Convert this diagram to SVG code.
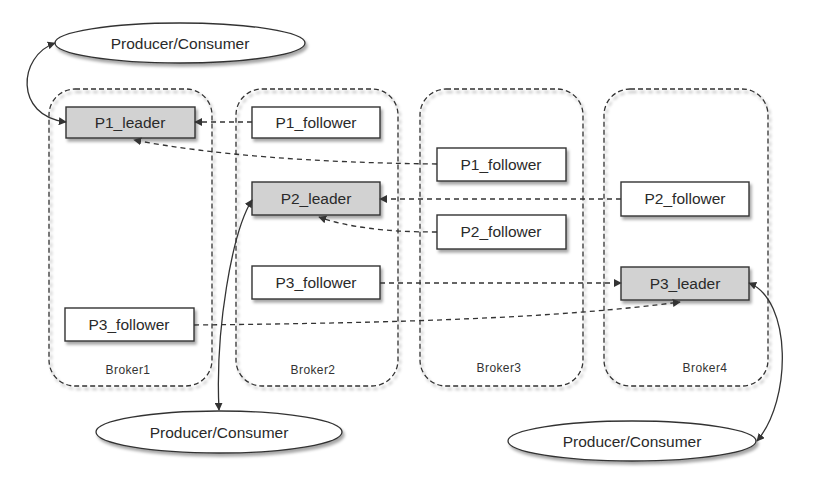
<svg xmlns="http://www.w3.org/2000/svg" width="835" height="478" viewBox="0 0 835 478">
<style>
.broker{fill:none;stroke:#333;stroke-width:1.3;stroke-dasharray:5,3}
.box{fill:#fff;stroke:#333;stroke-width:1.4}
.leader{fill:#d2d2d2;stroke:#333;stroke-width:1.4}
.ell{fill:#fff;stroke:#333;stroke-width:1.3}
.t{font-family:"Liberation Sans",Arial,sans-serif;font-size:15.5px;fill:#2a2a2a;text-anchor:middle}
.bl{font-family:"Liberation Sans",Arial,sans-serif;font-size:12px;fill:#333;text-anchor:middle;letter-spacing:0.4px}
.dash{fill:none;stroke:#333;stroke-width:1.3;stroke-dasharray:5,4;marker-end:url(#ah)}
.solid{fill:none;stroke:#333;stroke-width:1.3;marker-start:url(#ah);marker-end:url(#ah)}
</style>
<defs>
<marker id="ah" viewBox="0 0 10 10" refX="9" refY="5" markerWidth="8" markerHeight="8" markerUnits="userSpaceOnUse" orient="auto-start-reverse">
<path d="M0,0 L10,5 L0,10 z" fill="#333"/>
</marker>
<filter id="sh" x="-10%" y="-10%" width="130%" height="140%">
<feDropShadow dx="2" dy="3" stdDeviation="1.8" flood-color="#000" flood-opacity="0.35"/>
</filter>
</defs>
<rect width="835" height="478" fill="#fff"/>

<g id="broker1"><rect class="broker" x="49" y="89" width="163" height="297" rx="26" filter="url(#sh)"/><text class="bl" x="128" y="374">Broker1</text></g>
<g id="broker2"><rect class="broker" x="236" y="89" width="162" height="297" rx="26" filter="url(#sh)"/><text class="bl" x="313" y="374">Broker2</text></g>
<g id="broker3"><rect class="broker" x="420" y="89" width="163" height="297" rx="26" filter="url(#sh)"/><text class="bl" x="499" y="372">Broker3</text></g>
<g id="broker4"><rect class="broker" x="604" y="89" width="164" height="297" rx="26" filter="url(#sh)"/><text class="bl" x="705" y="372">Broker4</text></g>

<g id="p1_leader"><rect class="leader" x="66" y="107" width="129" height="31" filter="url(#sh)"/><text class="t" x="130" y="128">P1_leader</text></g>
<g id="p1_follower_b2"><rect class="box" x="252" y="107" width="128" height="31" filter="url(#sh)"/><text class="t" x="316" y="128">P1_follower</text></g>
<g id="p2_leader"><rect class="leader" x="252" y="182" width="128" height="33" filter="url(#sh)"/><text class="t" x="316" y="204">P2_leader</text></g>
<g id="p3_follower_b2"><rect class="box" x="252" y="266" width="128" height="33" filter="url(#sh)"/><text class="t" x="316" y="288">P3_follower</text></g>
<g id="p3_follower_b1"><rect class="box" x="65" y="308" width="129" height="33" filter="url(#sh)"/><text class="t" x="129" y="330">P3_follower</text></g>
<g id="p1_follower_b3"><rect class="box" x="437" y="148" width="129" height="33" filter="url(#sh)"/><text class="t" x="501" y="170">P1_follower</text></g>
<g id="p2_follower_b3"><rect class="box" x="437" y="215" width="129" height="34" filter="url(#sh)"/><text class="t" x="501" y="237">P2_follower</text></g>
<g id="p2_follower_b4"><rect class="box" x="621" y="182" width="128" height="34" filter="url(#sh)"/><text class="t" x="685" y="204">P2_follower</text></g>
<g id="p3_leader"><rect class="leader" x="621" y="267" width="128" height="33" filter="url(#sh)"/><text class="t" x="685" y="289">P3_leader</text></g>

<g id="pc_top"><ellipse class="ell" cx="180" cy="43" rx="125" ry="20" filter="url(#sh)"/><text class="t" x="180" y="49">Producer/Consumer</text></g>
<g id="pc_bottom_left"><ellipse class="ell" cx="219" cy="432" rx="123" ry="21" filter="url(#sh)"/><text class="t" x="219" y="438">Producer/Consumer</text></g>
<g id="pc_bottom_right"><ellipse class="ell" cx="632" cy="441" rx="124" ry="20" filter="url(#sh)"/><text class="t" x="632" y="447">Producer/Consumer</text></g>

<g id="connectors">
<path class="solid" d="M55,43 C18,56 14,116 66,122"/>
<path class="dash" d="M252,122 L195,122"/>
<path class="dash" d="M437,164 Q250,162 134,140"/>
<path class="dash" d="M621,199 L380,199"/>
<path class="dash" d="M437,232 Q360,232 319,217"/>
<path class="dash" d="M380,283 L621,283"/>
<path class="dash" d="M194,325 C400,323 560,318 680,302"/>
<path class="solid" d="M252,200 C232,232 215,330 219,410"/>
<path class="solid" d="M749,283 C792,300 792,400 757,441"/>
</g>
</svg>
